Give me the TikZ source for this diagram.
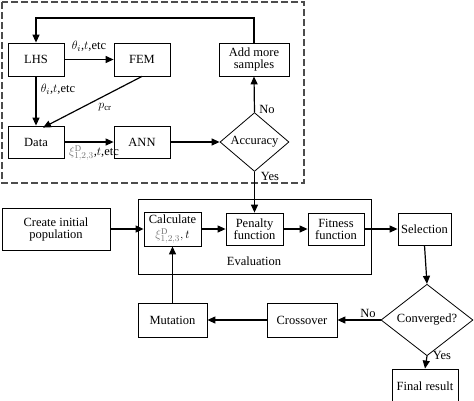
\documentclass[tikz,border=0pt]{standalone}
\usepackage{fontspec}
\setmainfont{Liberation Serif}
\usetikzlibrary{arrows.meta,shapes.geometric}
\begin{document}
\begin{tikzpicture}[x=1pt,y=-1pt,
  box/.style={draw,line width=0.8pt,inner sep=1pt,align=center,font=\fontsize{12.5}{14}\selectfont},
  dia/.style={draw,line width=0.8pt,shape=diamond,inner sep=0pt,align=center,font=\fontsize{12.5}{14}\selectfont},
  conn/.style={line width=1.2pt,-{Triangle[length=8pt,width=7pt]}},
  lab/.style={font=\fontsize{12.5}{14}\selectfont,inner sep=1pt}]
\useasboundingbox (0,0) rectangle (474,400);
\begin{scope}
\clip (0,0) rectangle (474,400);
% dashed surrogate box
\draw[line width=1.6pt,dashed,dash pattern=on 7pt off 3pt,black!70] (2,2) rectangle (304,183);
% evaluation box
\draw[line width=0.7pt] (138,199) rectangle (371,274);
\node[lab] (evl) at (254,261) {Evaluation};

\node[box,minimum width=56pt,minimum height=33pt] (lhs) at (36,59.5) {LHS};
\node[box,minimum width=56pt,minimum height=33pt] (fem) at (142,59.5) {FEM};
\node[box,minimum width=56pt,minimum height=32pt] (data) at (36,142) {Data};
\node[box,minimum width=56pt,minimum height=32pt] (ann) at (142,142) {ANN};
\node[dia,minimum width=69pt,minimum height=48pt] (acc) at (254.5,142) {Accuracy};
\node[box,minimum width=70pt,minimum height=33pt] (add) at (254,59.5) {Add more\\[-2pt]samples};

\node[box,minimum width=108pt,minimum height=42pt] (create) at (56,229) {Create initial\\[-2pt]population};
\node[box,minimum width=57pt,minimum height=34pt,inner sep=0.5pt] (calc) at (172.5,229) {Calculate\\[1pt]$\textcolor{black!55}{\xi^{\mathrm{D}}_{1,2,3}},t$};
\node[box,minimum width=57pt,minimum height=32pt] (pen) at (254.5,229) {Penalty\\[-2pt]function};
\node[box,minimum width=56pt,minimum height=32pt] (fit) at (336,229) {Fitness\\[-2pt]function};
\node[box,minimum width=53pt,minimum height=32pt] (sel) at (424.5,229) {Selection};
\node[dia,minimum width=92pt,minimum height=52pt] (conv) at (427,320) {Converged?};
\node[box,minimum width=70pt,minimum height=34pt] (cross) at (302,320) {Crossover};
\node[box,minimum width=69pt,minimum height=34pt] (mut) at (172.5,320) {Mutation};
\node[box,minimum width=66pt,minimum height=34pt] (final) at (425,386) {Final result};

% connectors, upper part
\coordinate (c1) at (254,18);
\coordinate (c2) at (36,18);
\draw[conn] (add.north) -- (c1) -- (c2) -- (lhs.north);
\draw[conn] (lhs.east) -- (fem.west);
\draw[conn] (lhs.south) -- (data.north);
\draw[conn] (fem.south) -- ([xshift=7pt,yshift=-2pt]data.north);
\draw[conn] (data.east) -- (ann.west);
\draw[conn] (ann.east) -- (acc.west);
\draw[conn] (acc.north) -- (add.south);
\draw[conn] (acc.south) -- (pen.north);

\node[lab] (l1) at (89,46) {$\theta_i$,$t$,etc};
\node[lab] (l2) at (58,89) {$\theta_i$,$t$,etc};
\node[lab] (l3) at (105,107) {$p_{\mathrm{cr}}$};
\node[lab,inner sep=0pt] (l4) at (94,153) {$\textcolor{black!55}{\xi^{\mathrm{D}}_{1,2,3}}$,$t$,etc};
\node[lab] (no1) at (267,109) {No};
\node[lab] (yes1) at (270,176) {Yes};

% lower part
\draw[conn] (create.east) -- (calc.west);
\draw[conn] (calc.east) -- (pen.west);
\draw[conn] (pen.east) -- (fit.west);
\draw[conn] (fit.east) -- (sel.west);
\draw[conn] (sel.south) -- (conv.north);
\draw[conn] (conv.west) -- (cross.east);
\draw[conn] (cross.west) -- (mut.east);
\draw[conn] (mut.north) -- (calc.south);
\draw[conn] (conv.south) -- (final.north);
\node[lab] (no2) at (368,313) {No};
\node[lab] (yes2) at (442,355) {Yes};
\end{scope}
\end{tikzpicture}
\end{document}
